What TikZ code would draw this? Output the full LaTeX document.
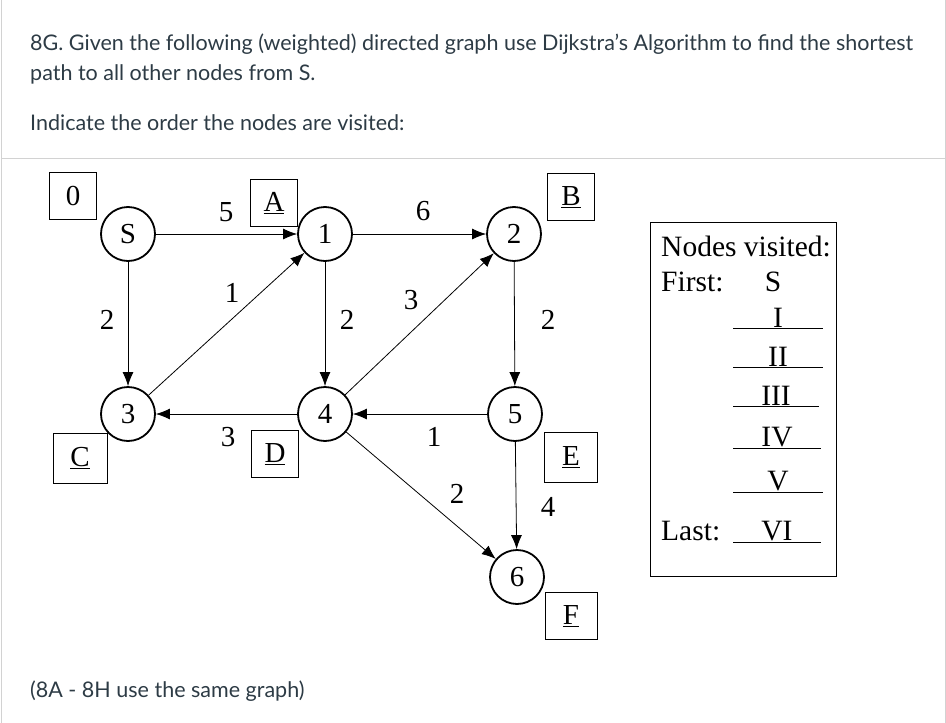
\documentclass[tikz,border=0pt]{standalone}
\usepackage{fontspec}
\setmainfont{Liberation Serif}
\newfontfamily\uifont{Lato}
\usetikzlibrary{arrows.meta}
\definecolor{uitext}{HTML}{2D3B45}
\begin{document}
\begin{tikzpicture}[x=1pt,y=-1pt,
  vert/.style={circle,draw,line width=1.8pt,minimum size=54pt,inner sep=0pt,font=\fontsize{29}{29}\selectfont},
  tag/.style={draw,line width=0.8pt,minimum width=47pt,minimum height=47pt,inner sep=0pt,font=\fontsize{29}{29}\selectfont},
  wt/.style={font=\fontsize{29}{29}\selectfont,inner sep=0pt},
  edge/.style={line width=0.8pt,-{Latex[length=14pt,width=11pt]}},
  ui/.style={font=\uifont\fontsize{21.5}{21.5}\selectfont,text=uitext,anchor=base west,inner sep=0pt},
  box/.style={font=\fontsize{29.5}{29.5}\selectfont,anchor=base west,inner sep=0pt},
  slot/.style={font=\fontsize{29.5}{29.5}\selectfont,anchor=base,inner sep=0pt}]
\useasboundingbox (0,0) rectangle (946,723);
% page frame
\draw[gray!35,line width=1pt] (1,0) -- (1,723) (945,0) -- (945,723) (1,158) -- (945,158);

% question text
\node[ui] (q1) at (30,50) {8G. Given the following (weighted) directed graph use Dijkstra’s Algorithm to find the shortest};
\node[ui] (q2) at (30,80) {path to all other nodes from S.};
\node[ui] (q3) at (30,130) {Indicate the order the nodes are visited:};
\node[ui] (q4) at (30,697) {(8A - 8H use the same graph)};

% vertices
\node[vert] (s) at (128,234) {S};
\node[vert] (n1) at (325,234) {1};
\node[vert] (n2) at (514,234) {2};
\node[vert] (n3) at (128,414) {3};
\node[vert] (n4) at (325,414) {4};
\node[vert] (n5) at (515,414) {5};
\node[vert] (n6) at (517,577) {6};

% tags
\node[tag] (t0) at (73,196) {0};
\node[tag] (ta) at (274,203) {\underline{A}};
\node[tag] (tb) at (571,197) {\underline{B}};
\node[tag,minimum width=54pt,minimum height=50pt] (tc) at (80,458) {\underline{C}};
\node[tag] (td) at (275,454) {\underline{D}};
\node[tag,minimum width=53pt,minimum height=50pt] (te) at (571,457) {\underline{E}};
\node[tag,minimum width=52pt] (tf) at (571,616) {\underline{F}};

% edges
\draw[edge] (s) -- (n1);
\draw[edge] (n1) -- (n2);
\draw[edge] (s) -- (n3);
\draw[edge] (n3) -- (n1);
\draw[edge] (n1) -- (n4);
\draw[edge] (n4) -- (n2);
\draw[edge] (n2) -- (n5);
\draw[edge] (n4) -- (n3);
\draw[edge] (n5) -- (n4);
\draw[edge] (n4) -- (n6);
\draw[edge] (n5) -- (n6);

% weights
\node[wt] (w1) at (226,212) {5};
\node[wt] (w2) at (423,211) {6};
\node[wt] (w3) at (107,320) {2};
\node[wt] (w4) at (232,293) {1};
\node[wt] (w5) at (347,320) {2};
\node[wt] (w6) at (411,300) {3};
\node[wt] (w7) at (548,320) {2};
\node[wt] (w8) at (228,437) {3};
\node[wt] (w9) at (434,437) {1};
\node[wt] (w10) at (457,494) {2};
\node[wt] (w11) at (548,507) {4};

% visit order box
\draw[line width=0.8pt] (650,222) rectangle (836,576);
\node[box] (h) at (661,256) {Nodes visited:};
\node[box] (f) at (661,291) {First:};
\node[slot] (fs) at (773,291) {S};
\node[slot] (o1) at (778,327) {\underline{\makebox[3.05em]{I}}};
\node[slot] (o2) at (778,366) {\underline{\makebox[3.05em]{II}}};
\node[slot] (o3) at (776,405) {\underline{\makebox[2.9em]{III}}};
\node[slot] (o4) at (777,446) {\underline{\makebox[2.95em]{IV}}};
\node[slot] (o5) at (778,490) {\underline{\makebox[3.05em]{V}}};
\node[box] (l) at (661,540) {Last:};
\node[slot] (o6) at (777,540) {\underline{\makebox[2.95em]{VI}}};
\end{tikzpicture}
\end{document}
